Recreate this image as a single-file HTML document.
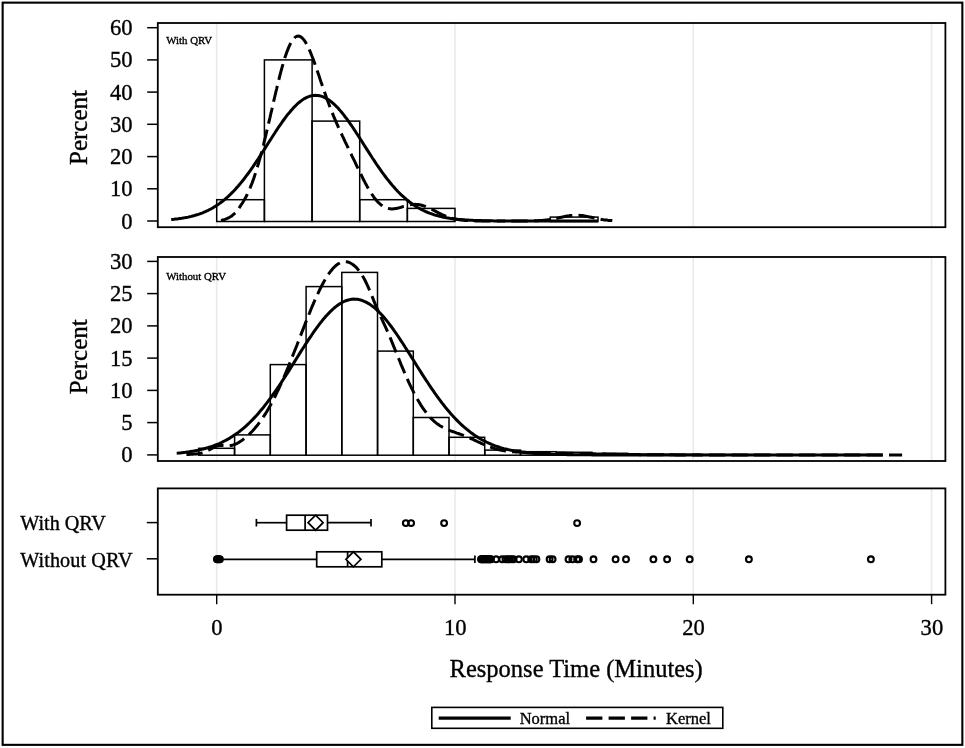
<!DOCTYPE html>
<html lang="en"><head><meta charset="utf-8"><title>Response Time Distribution</title>
<style>html,body{margin:0;padding:0;background:#fff;}svg{display:block;}</style></head>
<body>
<svg width="965" height="748" viewBox="0 0 965 748" font-family="'Liberation Serif', 'Times New Roman', serif" fill="#000" stroke="#000" stroke-width="0.35">
<rect x="0" y="0" width="965" height="748" fill="#fff" stroke="none"/>
<rect x="2.65" y="2.65" width="959.7" height="742.2" fill="none" stroke="#000" stroke-width="2.1"/>
<line x1="216.7" y1="23.0" x2="216.7" y2="227.2" stroke="#eaeaea" stroke-width="1.6"/>
<line x1="455.0" y1="23.0" x2="455.0" y2="227.2" stroke="#eaeaea" stroke-width="1.6"/>
<line x1="693.3" y1="23.0" x2="693.3" y2="227.2" stroke="#eaeaea" stroke-width="1.6"/>
<line x1="931.6" y1="23.0" x2="931.6" y2="227.2" stroke="#eaeaea" stroke-width="1.6"/>
<line x1="216.7" y1="257.0" x2="216.7" y2="461.0" stroke="#eaeaea" stroke-width="1.6"/>
<line x1="455.0" y1="257.0" x2="455.0" y2="461.0" stroke="#eaeaea" stroke-width="1.6"/>
<line x1="693.3" y1="257.0" x2="693.3" y2="461.0" stroke="#eaeaea" stroke-width="1.6"/>
<line x1="931.6" y1="257.0" x2="931.6" y2="461.0" stroke="#eaeaea" stroke-width="1.6"/>
<line x1="216.7" y1="488.4" x2="216.7" y2="594.7" stroke="#eaeaea" stroke-width="1.6"/>
<line x1="455.0" y1="488.4" x2="455.0" y2="594.7" stroke="#eaeaea" stroke-width="1.6"/>
<line x1="693.3" y1="488.4" x2="693.3" y2="594.7" stroke="#eaeaea" stroke-width="1.6"/>
<line x1="931.6" y1="488.4" x2="931.6" y2="594.7" stroke="#eaeaea" stroke-width="1.6"/>
<rect x="216.7" y="199.7" width="47.7" height="21.8" fill="none" stroke="#000" stroke-width="1.5"/>
<rect x="264.4" y="59.9" width="47.7" height="161.6" fill="none" stroke="#000" stroke-width="1.5"/>
<rect x="312.0" y="121.1" width="47.7" height="100.4" fill="none" stroke="#000" stroke-width="1.5"/>
<rect x="359.7" y="199.7" width="47.7" height="21.8" fill="none" stroke="#000" stroke-width="1.5"/>
<rect x="407.3" y="208.4" width="47.7" height="13.1" fill="none" stroke="#000" stroke-width="1.5"/>
<rect x="550.3" y="217.1" width="47.7" height="4.4" fill="none" stroke="#000" stroke-width="1.5"/>
<polyline points="171.2,219.5 172.6,219.4 174.0,219.3 175.5,219.1 176.9,218.9 178.3,218.8 179.7,218.6 181.2,218.4 182.6,218.1 184.0,217.9 185.5,217.6 186.9,217.4 188.3,217.1 189.7,216.7 191.2,216.4 192.6,216.0 194.0,215.7 195.5,215.2 196.9,214.8 198.3,214.4 199.7,213.9 201.2,213.3 202.6,212.8 204.0,212.2 205.4,211.6 206.9,210.9 208.3,210.3 209.7,209.5 211.2,208.8 212.6,208.0 214.0,207.1 215.4,206.3 216.9,205.3 218.3,204.4 219.7,203.4 221.1,202.3 222.6,201.2 224.0,200.1 225.4,198.9 226.9,197.6 228.3,196.4 229.7,195.0 231.1,193.6 232.6,192.2 234.0,190.7 235.4,189.2 236.8,187.6 238.3,186.0 239.7,184.3 241.1,182.6 242.6,180.8 244.0,179.0 245.4,177.1 246.8,175.2 248.3,173.3 249.7,171.3 251.1,169.3 252.5,167.3 254.0,165.2 255.4,163.1 256.8,160.9 258.3,158.8 259.7,156.6 261.1,154.4 262.5,152.1 264.0,149.9 265.4,147.7 266.8,145.4 268.2,143.2 269.7,140.9 271.1,138.7 272.5,136.5 274.0,134.2 275.4,132.0 276.8,129.9 278.2,127.7 279.7,125.6 281.1,123.6 282.5,121.5 284.0,119.5 285.4,117.6 286.8,115.7 288.2,113.9 289.7,112.2 291.1,110.5 292.5,108.9 293.9,107.3 295.4,105.9 296.8,104.5 298.2,103.2 299.7,102.0 301.1,100.9 302.5,99.9 303.9,98.9 305.4,98.1 306.8,97.4 308.2,96.8 309.6,96.3 311.1,95.9 312.5,95.6 313.9,95.4 315.4,95.3 316.8,95.4 318.2,95.5 319.6,95.8 321.1,96.1 322.5,96.6 323.9,97.2 325.3,97.9 326.8,98.7 328.2,99.5 329.6,100.5 331.1,101.6 332.5,102.8 333.9,104.0 335.3,105.4 336.8,106.8 338.2,108.3 339.6,109.9 341.0,111.6 342.5,113.3 343.9,115.1 345.3,117.0 346.8,118.9 348.2,120.9 349.6,122.9 351.0,124.9 352.5,127.0 353.9,129.1 355.3,131.3 356.7,133.5 358.2,135.7 359.6,137.9 361.0,140.2 362.5,142.4 363.9,144.7 365.3,146.9 366.7,149.1 368.2,151.4 369.6,153.6 371.0,155.8 372.4,158.0 373.9,160.2 375.3,162.3 376.7,164.5 378.2,166.6 379.6,168.6 381.0,170.6 382.4,172.6 383.9,174.6 385.3,176.5 386.7,178.4 388.2,180.2 389.6,182.0 391.0,183.7 392.4,185.4 393.9,187.1 395.3,188.7 396.7,190.2 398.1,191.7 399.6,193.2 401.0,194.6 402.4,195.9 403.9,197.2 405.3,198.5 406.7,199.7 408.1,200.8 409.6,202.0 411.0,203.0 412.4,204.0 413.8,205.0 415.3,206.0 416.7,206.9 418.1,207.7 419.6,208.5 421.0,209.3 422.4,210.0 423.8,210.7 425.3,211.4 426.7,212.0 428.1,212.6 429.5,213.2 431.0,213.7 432.4,214.2 433.8,214.7 435.3,215.1 436.7,215.5 438.1,215.9 439.5,216.3 441.0,216.6 442.4,217.0 443.8,217.3 445.2,217.5 446.7,217.8 448.1,218.0 449.5,218.3 451.0,218.5 452.4,218.7 453.8,218.9 455.2,219.1 456.7,219.2 458.1,219.4 459.5,219.5 460.9,219.6 462.4,219.7 463.8,219.8 465.2,219.9 466.7,220.0 468.1,220.1 469.5,220.2 470.9,220.3 472.4,220.3 473.8,220.4 475.2,220.5 476.7,220.5 478.1,220.6 479.5,220.6 480.9,220.6 482.4,220.7 483.8,220.7 485.2,220.7 486.6,220.8 488.1,220.8 489.5,220.8 490.9,220.8 492.4,220.8 493.8,220.9 495.2,220.9 496.6,220.9 498.1,220.9 499.5,220.9 500.9,220.9 502.3,220.9 503.8,220.9 505.2,220.9 506.6,220.9 508.1,221.0 509.5,221.0 510.9,221.0 512.3,221.0 513.8,221.0 515.2,221.0 516.6,221.0 518.0,221.0 519.5,221.0 520.9,221.0 522.3,221.0 523.8,221.0 525.2,221.0 526.6,221.0 528.0,221.0 529.5,221.0 530.9,221.0 532.3,221.0 533.7,221.0 535.2,221.0 536.6,221.0 538.0,221.0 539.5,221.0 540.9,221.0 542.3,221.0 543.7,221.0 545.2,221.0 546.6,221.0 548.0,221.0 549.4,221.0 550.9,221.0 552.3,221.0 553.7,221.0 555.2,221.0 556.6,221.0 558.0,221.0 559.4,221.0 560.9,221.0 562.3,221.0 563.7,221.0 565.1,221.0 566.6,221.0 568.0,221.0 569.4,221.0 570.9,221.0 572.3,221.0 573.7,221.0 575.1,221.0 576.6,221.0 578.0,221.0 579.4,221.0 580.9,221.0 582.3,221.0 583.7,221.0 585.1,221.0 586.6,221.0 588.0,221.0 589.4,221.0 590.8,221.0 592.3,221.0 593.7,221.0 595.1,221.0 596.6,221.0 598.0,221.0" fill="none" stroke="#000" stroke-width="3" stroke-linejoin="round" stroke-linecap="butt"/>
<polyline points="221.0,220.4 221.9,220.2 222.9,219.9 223.8,219.7 224.8,219.4 225.7,219.1 226.6,218.7 227.6,218.3 228.5,217.8 229.5,217.3 230.4,216.8 231.4,216.2 232.3,215.5 233.2,214.7 234.2,213.9 235.1,213.0 236.1,212.0 237.0,210.8 237.9,209.6 238.9,208.3 239.8,206.9 240.8,205.4 241.7,204.0 242.7,202.6 243.6,201.1 244.5,199.5 245.5,197.8 246.4,196.0 247.4,194.1 248.3,192.1 249.3,190.0 250.2,187.8 251.1,185.4 252.1,183.0 253.0,180.4 254.0,177.7 254.9,174.9 255.8,172.1 256.8,169.0 257.7,165.9 258.7,162.7 259.6,159.4 260.6,156.0 261.5,152.4 262.4,148.8 263.4,145.1 264.3,141.4 265.3,137.5 266.2,133.6 267.1,129.6 268.1,125.6 269.0,121.6 270.0,117.5 270.9,113.4 271.9,109.3 272.8,105.2 273.7,101.1 274.7,97.0 275.6,93.0 276.6,89.0 277.5,85.0 278.5,81.2 279.4,77.4 280.3,73.8 281.3,70.2 282.2,66.8 283.2,63.5 284.1,60.3 285.0,57.3 286.0,54.5 286.9,51.8 287.9,49.4 288.8,47.1 289.8,45.0 290.7,43.1 291.6,41.5 292.6,40.0 293.5,38.8 294.5,37.8 295.4,37.0 296.4,36.5 297.3,36.2 298.2,36.1 299.2,36.2 300.1,36.5 301.1,37.1 302.0,37.8 302.9,38.7 303.9,39.9 304.8,41.2 305.8,42.7 306.7,44.4 307.7,46.2 308.6,48.1 309.5,50.2 310.5,52.4 311.4,54.7 312.4,57.2 313.3,59.6 314.3,62.2 315.2,64.9 316.1,67.5 317.1,70.3 318.0,73.0 319.0,75.8 319.9,78.6 320.8,81.4 321.8,84.1 322.7,86.9 323.7,89.6 324.6,92.3 325.6,95.0 326.5,97.7 327.4,100.2 328.4,102.8 329.3,105.3 330.3,107.8 331.2,110.2 332.2,112.6 333.1,114.9 334.0,117.2 335.0,119.4 335.9,121.6 336.9,123.8 337.8,125.9 338.7,128.0 339.7,130.1 340.6,132.1 341.6,134.1 342.5,136.1 343.5,138.1 344.4,140.1 345.3,142.1 346.3,144.0 347.2,146.0 348.2,148.0 349.1,149.9 350.0,151.9 351.0,153.8 351.9,155.8 352.9,157.8 353.8,159.7 354.8,161.7 355.7,163.7 356.6,165.6 357.6,167.6 358.5,169.5 359.5,171.5 360.4,173.4 361.4,175.3 362.3,177.2 363.2,179.1 364.2,180.9 365.1,182.7 366.1,184.4 367.0,186.2 367.9,187.8 368.9,189.5 369.8,191.0 370.8,192.6 371.7,194.0 372.7,195.4 373.6,196.8 374.5,198.0 375.5,199.2 376.4,200.4 377.4,201.4 378.3,202.4 379.3,203.3 380.2,204.2 381.1,205.0 382.1,205.6 383.0,206.3 384.0,206.8 384.9,207.3 385.8,207.7 386.8,208.1 387.7,208.4 388.7,208.6 389.6,208.7 390.6,208.8 391.5,208.9 392.4,208.9 393.4,208.8 394.3,208.8 395.3,208.6 396.2,208.5 397.2,208.3 398.1,208.1 399.0,207.8 400.0,207.6 400.9,207.3 401.9,207.0 402.8,206.7 403.7,206.4 404.7,206.2 405.6,205.9 406.6,205.6 407.5,205.4 408.5,205.2 409.4,205.0 410.3,204.8 411.3,204.6 412.2,204.5 413.2,204.4 414.1,204.4 415.1,204.3 416.0,204.4 416.9,204.4 417.9,204.5 418.8,204.6 419.8,204.8 420.7,205.0 421.6,205.2 422.6,205.5 423.5,205.8 424.5,206.1 425.4,206.4 426.4,206.8 427.3,207.2 428.2,207.6 429.2,208.1 430.1,208.5 431.1,209.0 432.0,209.5 432.9,209.9 433.9,210.4 434.8,210.9 435.8,211.4 436.7,211.9 437.7,212.4 438.6,212.9 439.5,213.3 440.5,213.8 441.4,214.3 442.4,214.7 443.3,215.1 444.3,215.5 445.2,215.9 446.1,216.3 447.1,216.7 448.0,217.0 449.0,217.3 449.9,217.6 450.8,217.9 451.8,218.2 452.7,218.4 453.7,218.7 454.6,218.9 455.6,219.1 456.5,219.3 457.4,219.5 458.4,219.6 459.3,219.8 460.3,219.9 461.2,220.0 462.2,220.1 463.1,220.2 464.0,220.3 465.0,220.4 465.9,220.5 466.9,220.5 467.8,220.6 468.7,220.6 469.7,220.7 470.6,220.7 471.6,220.8 472.5,220.8 473.5,220.8 474.4,220.8 475.3,220.9 476.3,220.9 477.2,220.9 478.2,220.9 479.1,220.9 480.1,220.9 481.0,221.0 481.9,221.0 482.9,221.0 483.8,221.0 484.8,221.0 485.7,221.0 486.6,221.0 487.6,221.0 488.5,221.0 489.5,221.0 490.4,221.0 491.4,221.0 492.3,221.0 493.2,221.0 494.2,221.0 495.1,221.0 496.1,221.0 497.0,221.0 497.9,221.0 498.9,221.0 499.8,221.0 500.8,221.0 501.7,221.0 502.7,221.0 502.7,221.0" fill="none" stroke="#000" stroke-width="3" stroke-dasharray="16.3 6.2" stroke-linejoin="round"/>
<polyline points="502.7,221.0 502.7,221.0 503.8,221.0 504.9,221.0 506.0,221.0 507.1,221.0 508.2,221.0 509.3,221.0 510.4,221.0 511.5,221.0 512.6,221.0 513.7,221.0 514.8,221.0 515.9,221.0 517.1,221.0 518.2,221.0 519.3,221.0 520.4,221.0 521.5,221.0 522.6,221.0 523.7,221.0 524.8,221.0 525.9,221.0 527.0,221.0 528.1,220.9 529.2,220.9 530.3,220.9 531.4,220.9 532.6,220.9 533.7,220.9 534.8,220.8 535.9,220.8 537.0,220.7 538.1,220.7 539.2,220.6 540.3,220.6 541.4,220.5 542.5,220.4 543.6,220.3 544.7,220.2 545.8,220.1 547.0,220.0 548.1,219.8 549.2,219.7 550.3,219.5 551.4,219.3 552.5,219.2 553.6,219.0 554.7,218.7 555.8,218.5 556.9,218.3 558.0,218.0 559.1,217.8 560.2,217.5 561.3,217.3 562.5,217.1 563.6,216.8 564.7,216.6 565.8,216.3 566.9,216.1 568.0,215.9 569.1,215.8 570.2,215.6 571.3,215.5 572.4,215.4 573.5,215.3 574.6,215.2 575.7,215.2 576.8,215.2 578.0,215.2 579.1,215.3 580.2,215.4 581.3,215.5 582.4,215.6 583.5,215.8 584.6,216.0 585.7,216.2 586.8,216.4 587.9,216.6 589.0,216.9 590.1,217.1 591.2,217.3 592.3,217.6 593.5,217.8 594.6,218.1 595.7,218.3 596.8,218.6 597.9,218.8 599.0,219.0 600.1,219.2 601.2,219.4 602.3,219.6 603.4,219.7 604.5,219.9 605.6,220.0 606.7,220.1 607.8,220.3 609.0,220.4 610.1,220.4 611.2,220.5 612.3,220.6" fill="none" stroke="#000" stroke-width="3" stroke-dasharray="16.3 6.2" stroke-dashoffset="13.7" stroke-linejoin="round"/>
<rect x="198.8" y="448.3" width="35.7" height="6.9" fill="none" stroke="#000" stroke-width="1.5"/>
<rect x="234.6" y="434.9" width="35.7" height="20.3" fill="none" stroke="#000" stroke-width="1.5"/>
<rect x="270.3" y="364.6" width="35.7" height="90.6" fill="none" stroke="#000" stroke-width="1.5"/>
<rect x="306.1" y="286.6" width="35.7" height="168.6" fill="none" stroke="#000" stroke-width="1.5"/>
<rect x="341.8" y="272.4" width="35.7" height="182.8" fill="none" stroke="#000" stroke-width="1.5"/>
<rect x="377.6" y="351.1" width="35.7" height="104.1" fill="none" stroke="#000" stroke-width="1.5"/>
<rect x="413.3" y="417.5" width="35.7" height="37.7" fill="none" stroke="#000" stroke-width="1.5"/>
<rect x="449.0" y="437.3" width="35.7" height="17.9" fill="none" stroke="#000" stroke-width="1.5"/>
<rect x="484.8" y="450.1" width="35.7" height="5.1" fill="none" stroke="#000" stroke-width="1.5"/>
<rect x="520.5" y="451.7" width="35.7" height="3.5" fill="none" stroke="#000" stroke-width="1.5"/>
<rect x="556.3" y="452.3" width="35.7" height="2.9" fill="none" stroke="#000" stroke-width="1.5"/>
<rect x="592.0" y="453.3" width="35.7" height="1.9" fill="none" stroke="#000" stroke-width="1.5"/>
<rect x="627.8" y="454.1" width="35.7" height="1.1" fill="none" stroke="#000" stroke-width="1.5"/>
<rect x="663.5" y="454.3" width="35.7" height="0.9" fill="none" stroke="#000" stroke-width="1.5"/>
<rect x="699.3" y="454.6" width="35.7" height="0.6" fill="none" stroke="#000" stroke-width="1.5"/>
<rect x="735.0" y="454.6" width="35.7" height="0.6" fill="none" stroke="#000" stroke-width="1.5"/>
<rect x="842.2" y="454.6" width="35.7" height="0.6" fill="none" stroke="#000" stroke-width="1.5"/>
<polyline points="176.7,453.2 178.4,453.1 180.2,452.9 182.0,452.7 183.7,452.5 185.5,452.3 187.3,452.0 189.1,451.8 190.8,451.5 192.6,451.2 194.4,450.9 196.1,450.6 197.9,450.2 199.7,449.9 201.4,449.4 203.2,449.0 205.0,448.5 206.7,448.0 208.5,447.5 210.3,446.9 212.1,446.3 213.8,445.7 215.6,445.0 217.4,444.3 219.1,443.6 220.9,442.8 222.7,441.9 224.4,441.0 226.2,440.1 228.0,439.1 229.8,438.1 231.5,437.0 233.3,435.8 235.1,434.6 236.8,433.4 238.6,432.1 240.4,430.7 242.1,429.3 243.9,427.8 245.7,426.3 247.5,424.6 249.2,423.0 251.0,421.2 252.8,419.4 254.5,417.6 256.3,415.7 258.1,413.7 259.8,411.6 261.6,409.5 263.4,407.4 265.1,405.2 266.9,402.9 268.7,400.5 270.5,398.1 272.2,395.7 274.0,393.2 275.8,390.7 277.5,388.1 279.3,385.5 281.1,382.8 282.8,380.1 284.6,377.4 286.4,374.6 288.2,371.9 289.9,369.1 291.7,366.2 293.5,363.4 295.2,360.6 297.0,357.8 298.8,354.9 300.5,352.1 302.3,349.3 304.1,346.6 305.8,343.8 307.6,341.1 309.4,338.4 311.2,335.8 312.9,333.2 314.7,330.7 316.5,328.2 318.2,325.8 320.0,323.4 321.8,321.2 323.5,319.0 325.3,316.9 327.1,315.0 328.9,313.1 330.6,311.3 332.4,309.6 334.2,308.0 335.9,306.6 337.7,305.3 339.5,304.0 341.2,303.0 343.0,302.0 344.8,301.2 346.6,300.5 348.3,300.0 350.1,299.6 351.9,299.3 353.6,299.1 355.4,299.2 357.2,299.3 358.9,299.6 360.7,300.0 362.5,300.6 364.2,301.3 366.0,302.1 367.8,303.1 369.6,304.1 371.3,305.4 373.1,306.7 374.9,308.2 376.6,309.7 378.4,311.4 380.2,313.2 381.9,315.1 383.7,317.1 385.5,319.2 387.3,321.4 389.0,323.6 390.8,326.0 392.6,328.4 394.3,330.9 396.1,333.4 397.9,336.0 399.6,338.6 401.4,341.3 403.2,344.0 404.9,346.8 406.7,349.6 408.5,352.4 410.3,355.2 412.0,358.0 413.8,360.8 415.6,363.7 417.3,366.5 419.1,369.3 420.9,372.1 422.6,374.9 424.4,377.6 426.2,380.4 428.0,383.0 429.7,385.7 431.5,388.3 433.3,390.9 435.0,393.4 436.8,395.9 438.6,398.4 440.3,400.7 442.1,403.1 443.9,405.3 445.6,407.6 447.4,409.7 449.2,411.8 451.0,413.9 452.7,415.8 454.5,417.7 456.3,419.6 458.0,421.4 459.8,423.1 461.6,424.8 463.3,426.4 465.1,427.9 466.9,429.4 468.7,430.8 470.4,432.2 472.2,433.5 474.0,434.8 475.7,435.9 477.5,437.1 479.3,438.2 481.0,439.2 482.8,440.2 484.6,441.1 486.4,442.0 488.1,442.8 489.9,443.6 491.7,444.4 493.4,445.1 495.2,445.8 497.0,446.4 498.7,447.0 500.5,447.6 502.3,448.1 504.0,448.6 505.8,449.0 507.6,449.5 509.4,449.9 511.1,450.3 512.9,450.6 514.7,451.0 516.4,451.3 518.2,451.6 520.0,451.8 521.7,452.1 523.5,452.3 525.3,452.5 527.1,452.7 528.8,452.9 530.6,453.1 532.4,453.2 534.1,453.4 535.9,453.5 537.7,453.6 539.4,453.7 541.2,453.8 543.0,453.9 544.7,454.0 546.5,454.1 548.3,454.2 550.1,454.2 551.8,454.3 553.6,454.4 555.4,454.4 557.1,454.5 558.9,454.5 560.7,454.5 562.4,454.6 564.2,454.6 566.0,454.6 567.8,454.7 569.5,454.7 571.3,454.7 573.1,454.7 574.8,454.8 576.6,454.8 578.4,454.8 580.1,454.8 581.9,454.8 583.7,454.8 585.5,454.8 587.2,454.8 589.0,454.8 590.8,454.8 592.5,454.9 594.3,454.9 596.1,454.9 597.8,454.9 599.6,454.9 601.4,454.9 603.1,454.9 604.9,454.9 606.7,454.9 608.5,454.9 610.2,454.9 612.0,454.9 613.8,454.9 615.5,454.9 617.3,454.9 619.1,454.9 620.8,454.9 622.6,454.9 624.4,454.9 626.2,454.9 627.9,454.9 629.7,454.9 631.5,454.9 633.2,454.9 635.0,454.9 636.8,454.9 638.5,454.9 640.3,454.9 642.1,454.9 643.8,454.9 645.6,454.9 647.4,454.9 649.2,454.9 650.9,454.9 652.7,454.9 654.5,454.9 656.2,454.9 658.0,454.9 659.8,454.9 661.5,454.9 663.3,454.9 665.1,454.9 666.9,454.9 668.6,454.9 670.4,454.9 672.2,454.9 673.9,454.9 675.7,454.9 677.5,454.9 679.2,454.9 681.0,454.9 682.8,454.9 684.5,454.9 686.3,454.9 688.1,454.9 689.9,454.9 691.6,454.9 693.4,454.9 695.2,454.9 696.9,454.9 698.7,454.9 700.5,454.9 702.2,454.9 704.0,454.9 705.8,454.9 707.6,454.9 709.3,454.9 711.1,454.9 712.9,454.9 714.6,454.9 716.4,454.9 718.2,454.9 719.9,454.9 721.7,454.9 723.5,454.9 725.3,454.9 727.0,454.9 728.8,454.9 730.6,454.9 732.3,454.9 734.1,454.9 735.9,454.9 737.6,454.9 739.4,454.9 741.2,454.9 742.9,454.9 744.7,454.9 746.5,454.9 748.3,454.9 750.0,454.9 751.8,454.9 753.6,454.9 755.3,454.9 757.1,454.9 758.9,454.9 760.6,454.9 762.4,454.9 764.2,454.9 766.0,454.9 767.7,454.9 769.5,454.9 771.3,454.9 773.0,454.9 774.8,454.9 776.6,454.9 778.3,454.9 780.1,454.9 781.9,454.9 783.6,454.9 785.4,454.9 787.2,454.9 789.0,454.9 790.7,454.9 792.5,454.9 794.3,454.9 796.0,454.9 797.8,454.9 799.6,454.9 801.3,454.9 803.1,454.9 804.9,454.9 806.7,454.9 808.4,454.9 810.2,454.9 812.0,454.9 813.7,454.9 815.5,454.9 817.3,454.9 819.0,454.9 820.8,454.9 822.6,454.9 824.4,454.9 826.1,454.9 827.9,454.9 829.7,454.9 831.4,454.9 833.2,454.9 835.0,454.9 836.7,454.9 838.5,454.9 840.3,454.9 842.0,454.9 843.8,454.9 845.6,454.9 847.4,454.9 849.1,454.9 850.9,454.9 852.7,454.9 854.4,454.9 856.2,454.9 858.0,454.9 859.7,454.9 861.5,454.9 863.3,454.9 865.1,454.9 866.8,454.9 868.6,454.9 870.4,454.9 872.1,454.9 873.9,454.9 875.7,454.9 877.4,454.9 879.2,454.9 881.0,454.9 882.7,454.9" fill="none" stroke="#000" stroke-width="3" stroke-linejoin="round"/>
<polyline points="186.4,454.5 187.7,454.4 189.0,454.4 190.2,454.3 191.5,454.3 192.8,454.2 194.1,454.1 195.3,454.0 196.6,453.9 197.9,453.7 199.1,453.5 200.4,453.3 201.7,453.0 203.0,452.6 204.2,452.2 205.5,451.7 206.8,451.1 208.0,450.5 209.3,449.8 210.6,449.1 211.8,448.4 213.1,447.7 214.4,447.1 215.7,446.6 216.9,446.1 218.2,445.8 219.5,445.6 220.7,445.5 222.0,445.5 223.3,445.6 224.5,445.7 225.8,445.7 227.1,445.8 228.4,445.8 229.6,445.7 230.9,445.5 232.2,445.3 233.4,444.9 234.7,444.5 236.0,443.9 237.2,443.3 238.5,442.6 239.8,441.8 241.1,441.0 242.3,440.1 243.6,439.1 244.9,438.1 246.1,437.1 247.4,436.0 248.7,434.8 250.0,433.6 251.2,432.3 252.5,431.0 253.8,429.6 255.0,428.1 256.3,426.6 257.6,425.0 258.8,423.3 260.1,421.6 261.4,419.8 262.7,418.0 263.9,416.1 265.2,414.1 266.5,412.0 267.7,409.9 269.0,407.7 270.3,405.5 271.5,403.1 272.8,400.7 274.1,398.3 275.4,395.8 276.6,393.2 277.9,390.5 279.2,387.8 280.4,385.1 281.7,382.2 283.0,379.4 284.3,376.4 285.5,373.5 286.8,370.4 288.1,367.4 289.3,364.3 290.6,361.1 291.9,357.9 293.1,354.7 294.4,351.5 295.7,348.3 297.0,345.0 298.2,341.7 299.5,338.4 300.8,335.1 302.0,331.9 303.3,328.6 304.6,325.3 305.8,322.1 307.1,318.9 308.4,315.7 309.7,312.6 310.9,309.5 312.2,306.4 313.5,303.4 314.7,300.5 316.0,297.6 317.3,294.8 318.6,292.1 319.8,289.5 321.1,287.0 322.4,284.5 323.6,282.2 324.9,279.9 326.2,277.8 327.4,275.8 328.7,273.9 330.0,272.1 331.3,270.5 332.5,269.0 333.8,267.6 335.1,266.3 336.3,265.2 337.6,264.3 338.9,263.5 340.1,262.8 341.4,262.3 342.7,261.9 344.0,261.7 345.2,261.7 346.5,261.8 347.8,262.0 349.0,262.4 350.3,263.0 351.6,263.7 352.8,264.5 354.1,265.5 355.4,266.6 356.7,267.9 357.9,269.4 359.2,271.0 360.5,272.7 361.7,274.7 363.0,276.8 364.3,279.0 365.6,281.5 366.8,284.1 368.1,286.9 369.4,289.8 370.6,292.8 371.9,295.9 373.2,299.1 374.4,302.2 375.7,305.3 377.0,308.3 378.3,311.3 379.5,314.1 380.8,316.9 382.1,319.7 383.3,322.4 384.6,325.1 385.9,327.9 387.1,330.7 388.4,333.6 389.7,336.6 391.0,339.6 392.2,342.7 393.5,345.8 394.8,349.0 396.0,352.1 397.3,355.3 398.6,358.4 399.9,361.5 401.1,364.6 402.4,367.7 403.7,370.7 404.9,373.6 406.2,376.5 407.5,379.4 408.7,382.1 410.0,384.9 411.3,387.5 412.6,390.1 413.8,392.6 415.1,395.0 416.4,397.4 417.6,399.6 418.9,401.8 420.2,403.9 421.4,405.9 422.7,407.8 424.0,409.7 425.3,411.4 426.5,413.1 427.8,414.7 429.1,416.2 430.3,417.6 431.6,418.9 432.9,420.1 434.2,421.3 435.4,422.4 436.7,423.4 438.0,424.3 439.2,425.2 440.5,426.0 441.8,426.7 443.0,427.4 444.3,428.1 445.6,428.7 446.9,429.3 448.1,429.8 449.4,430.3 450.7,430.8 451.9,431.3 453.2,431.7 454.5,432.2 455.7,432.6 457.0,433.1 458.3,433.5 459.6,434.0 460.8,434.4 462.1,434.9 463.4,435.4 464.6,435.9 465.9,436.4 467.2,436.9 468.5,437.5 469.7,438.0 471.0,438.6 472.3,439.2 473.5,439.7 474.8,440.3 476.1,440.9 477.3,441.5 478.6,442.1 479.9,442.7 481.2,443.3 482.4,443.9 483.7,444.4 485.0,445.0 486.2,445.5 487.5,446.0 488.8,446.5 490.0,447.0 491.3,447.4 492.6,447.9 493.9,448.3 495.1,448.7 496.4,449.0 497.7,449.4 498.9,449.7 500.2,450.0 501.5,450.2 502.7,450.5 504.0,450.7 505.3,450.9 506.6,451.1 507.8,451.2 509.1,451.4 510.4,451.5 511.6,451.6 512.9,451.7 514.2,451.8 515.5,451.9 516.7,452.0 518.0,452.1 519.3,452.1 520.5,452.2 521.8,452.2 523.1,452.3 524.3,452.3 525.6,452.3 526.9,452.4 528.2,452.4 529.4,452.4 530.7,452.4 532.0,452.5 533.2,452.5 534.5,452.5 535.8,452.5 537.0,452.6 538.3,452.6 539.6,452.6 540.9,452.6 542.1,452.6 543.4,452.7 544.7,452.7 545.9,452.7 547.2,452.7 548.5,452.8 549.8,452.8 551.0,452.8 552.3,452.8 553.6,452.9 554.8,452.9 556.1,452.9 557.4,453.0 558.6,453.0 559.9,453.0 561.2,453.0 562.5,453.1 563.7,453.1 565.0,453.1 566.3,453.2 567.5,453.2 568.8,453.2 570.1,453.3 571.3,453.3 572.6,453.3 573.9,453.4 575.2,453.4 576.4,453.4 577.7,453.5 579.0,453.5 580.2,453.5 581.5,453.6 582.8,453.6 584.1,453.6 585.3,453.7 586.6,453.7 587.9,453.7 589.1,453.8 590.4,453.8 591.7,453.8 592.9,453.9 594.2,453.9 595.5,453.9 596.8,454.0 598.0,454.0 599.3,454.0 600.6,454.0 601.8,454.1 603.1,454.1 604.4,454.1 605.6,454.1 606.9,454.2 608.2,454.2 609.5,454.2 610.7,454.3 612.0,454.3 613.3,454.3 614.5,454.3 615.8,454.3 617.1,454.4 618.4,454.4 619.6,454.4 620.9,454.4 622.2,454.4 623.4,454.5 624.7,454.5 626.0,454.5 627.2,454.5 628.5,454.5 629.8,454.6 631.1,454.6 632.3,454.6 633.6,454.6 634.9,454.6 636.1,454.6 637.4,454.6 638.7,454.6 639.9,454.7 641.2,454.7 642.5,454.7 643.8,454.7 645.0,454.7 646.3,454.7 647.6,454.7 648.8,454.7 650.1,454.7 651.4,454.8 652.6,454.8 653.9,454.8 655.2,454.8 656.5,454.8 657.7,454.8 659.0,454.8 660.3,454.8 661.5,454.8 662.8,454.8 664.1,454.8 665.4,454.8 666.6,454.8 667.9,454.8 669.2,454.8 670.4,454.8 671.7,454.8 673.0,454.8 674.2,454.8 675.5,454.9 676.8,454.9 678.1,454.9 679.3,454.9 680.6,454.9 681.9,454.9 683.1,454.9 684.4,454.9 685.7,454.9 686.9,454.9 688.2,454.9 689.5,454.9 690.8,454.9 692.0,454.9 693.3,454.9 693.3,454.9" fill="none" stroke="#000" stroke-width="3" stroke-dasharray="16.3 6.2" stroke-linejoin="round"/>
<polyline points="693.3,454.9 693.3,454.9 696.8,454.9 700.4,454.9 703.9,454.9 707.5,454.9 711.0,454.9 714.5,454.9 718.1,454.9 721.6,454.9 725.1,454.9 728.7,454.9 732.2,454.9 735.8,454.9 739.3,454.9 742.8,454.9 746.4,454.9 749.9,454.9 753.4,454.9 757.0,454.9 760.5,454.9 764.1,454.9 767.6,454.9 771.1,454.9 774.7,454.9 778.2,454.9 781.8,454.9 785.3,454.9 788.8,454.9 792.4,454.9 795.9,454.9 799.4,454.9 803.0,454.9 806.5,454.9 810.1,454.9 813.6,454.9 817.1,454.9 820.7,454.9 824.2,454.9 827.7,454.9 831.3,454.9 834.8,454.9 838.4,454.9 841.9,454.9 845.4,454.9 849.0,454.9 852.5,454.9 856.1,454.9 859.6,454.9 863.1,454.9 866.7,454.9 870.2,454.9 873.7,454.9 877.3,454.9 880.8,454.9 884.4,454.9 887.9,454.9 891.4,454.9 895.0,454.9 898.5,454.9 902.1,454.9" fill="none" stroke="#000" stroke-width="3" stroke-dasharray="16.3 6.2" stroke-dashoffset="6.8" stroke-linejoin="round"/>
<rect x="157.8" y="23.0" width="787.6" height="204.2" fill="none" stroke="#000" stroke-width="1.8"/>
<rect x="157.8" y="257.0" width="787.6" height="204.0" fill="none" stroke="#000" stroke-width="1.8"/>
<rect x="157.8" y="488.4" width="787.6" height="106.3" fill="none" stroke="#000" stroke-width="1.8"/>
<line x1="147.2" y1="221.0" x2="157.8" y2="221.0" stroke="#000" stroke-width="1.5"/>
<text x="132.6" y="228.5" font-size="22.6" text-anchor="end">0</text>
<line x1="147.2" y1="188.8" x2="157.8" y2="188.8" stroke="#000" stroke-width="1.5"/>
<text x="132.6" y="196.3" font-size="22.6" text-anchor="end">10</text>
<line x1="147.2" y1="156.6" x2="157.8" y2="156.6" stroke="#000" stroke-width="1.5"/>
<text x="132.6" y="164.1" font-size="22.6" text-anchor="end">20</text>
<line x1="147.2" y1="124.3" x2="157.8" y2="124.3" stroke="#000" stroke-width="1.5"/>
<text x="132.6" y="131.8" font-size="22.6" text-anchor="end">30</text>
<line x1="147.2" y1="92.1" x2="157.8" y2="92.1" stroke="#000" stroke-width="1.5"/>
<text x="132.6" y="99.6" font-size="22.6" text-anchor="end">40</text>
<line x1="147.2" y1="59.9" x2="157.8" y2="59.9" stroke="#000" stroke-width="1.5"/>
<text x="132.6" y="67.4" font-size="22.6" text-anchor="end">50</text>
<line x1="147.2" y1="27.7" x2="157.8" y2="27.7" stroke="#000" stroke-width="1.5"/>
<text x="132.6" y="35.2" font-size="22.6" text-anchor="end">60</text>
<line x1="147.2" y1="454.9" x2="157.8" y2="454.9" stroke="#000" stroke-width="1.5"/>
<text x="132.6" y="462.4" font-size="22.6" text-anchor="end">0</text>
<line x1="147.2" y1="422.6" x2="157.8" y2="422.6" stroke="#000" stroke-width="1.5"/>
<text x="132.6" y="430.1" font-size="22.6" text-anchor="end">5</text>
<line x1="147.2" y1="390.4" x2="157.8" y2="390.4" stroke="#000" stroke-width="1.5"/>
<text x="132.6" y="397.9" font-size="22.6" text-anchor="end">10</text>
<line x1="147.2" y1="358.1" x2="157.8" y2="358.1" stroke="#000" stroke-width="1.5"/>
<text x="132.6" y="365.6" font-size="22.6" text-anchor="end">15</text>
<line x1="147.2" y1="325.9" x2="157.8" y2="325.9" stroke="#000" stroke-width="1.5"/>
<text x="132.6" y="333.4" font-size="22.6" text-anchor="end">20</text>
<line x1="147.2" y1="293.6" x2="157.8" y2="293.6" stroke="#000" stroke-width="1.5"/>
<text x="132.6" y="301.1" font-size="22.6" text-anchor="end">25</text>
<line x1="147.2" y1="261.4" x2="157.8" y2="261.4" stroke="#000" stroke-width="1.5"/>
<text x="132.6" y="268.9" font-size="22.6" text-anchor="end">30</text>
<text transform="translate(87.0,127.5) rotate(-90)" font-size="25" text-anchor="middle">Percent</text>
<text transform="translate(87.0,356.8) rotate(-90)" font-size="25" text-anchor="middle">Percent</text>
<text x="166.2" y="43.5" font-size="10.85">With QRV</text>
<text x="166.2" y="279.8" font-size="10.85">Without QRV</text>
<line x1="256.4" y1="522.7" x2="286.6" y2="522.7" stroke="#000" stroke-width="1.7"/>
<line x1="327.5" y1="522.7" x2="371.0" y2="522.7" stroke="#000" stroke-width="1.7"/>
<line x1="256.4" y1="518.9" x2="256.4" y2="526.5" stroke="#000" stroke-width="1.7"/>
<line x1="371.0" y1="518.9" x2="371.0" y2="526.5" stroke="#000" stroke-width="1.7"/>
<rect x="286.6" y="515.2" width="40.9" height="15.0" fill="#fff" stroke="#000" stroke-width="1.7"/>
<line x1="305.1" y1="515.2" x2="305.1" y2="530.2" stroke="#000" stroke-width="1.7"/>
<path d="M308.1 522.7 L315.6 515.2 L323.1 522.7 L315.6 530.2 Z" fill="#fff" stroke="#000" stroke-width="1.7"/>
<circle cx="405.8" cy="523.1" r="2.9" fill="none" stroke="#000" stroke-width="2.1"/>
<circle cx="411.1" cy="523.1" r="2.9" fill="none" stroke="#000" stroke-width="2.1"/>
<circle cx="444.1" cy="523.1" r="2.9" fill="none" stroke="#000" stroke-width="2.1"/>
<circle cx="577.1" cy="523.1" r="2.9" fill="none" stroke="#000" stroke-width="2.1"/>
<line x1="218.0" y1="559.3" x2="316.7" y2="559.3" stroke="#000" stroke-width="1.7"/>
<line x1="381.8" y1="559.3" x2="474.9" y2="559.3" stroke="#000" stroke-width="1.7"/>
<line x1="218.0" y1="555.5" x2="218.0" y2="563.1" stroke="#000" stroke-width="1.7"/>
<line x1="474.9" y1="555.5" x2="474.9" y2="563.1" stroke="#000" stroke-width="1.7"/>
<rect x="316.7" y="551.8" width="65.1" height="15.0" fill="#fff" stroke="#000" stroke-width="1.7"/>
<line x1="347.6" y1="551.8" x2="347.6" y2="566.8" stroke="#000" stroke-width="1.7"/>
<path d="M345.9 559.3 L353.4 551.8 L360.9 559.3 L353.4 566.8 Z" fill="#fff" stroke="#000" stroke-width="1.7"/>
<circle cx="216.9" cy="559.3" r="2.9" fill="none" stroke="#000" stroke-width="2.1"/>
<circle cx="217.8" cy="559.3" r="2.9" fill="none" stroke="#000" stroke-width="2.1"/>
<circle cx="218.8" cy="559.3" r="2.9" fill="none" stroke="#000" stroke-width="2.1"/>
<circle cx="219.9" cy="559.3" r="2.9" fill="none" stroke="#000" stroke-width="2.1"/>
<ellipse cx="218.4" cy="559.3" rx="3.5" ry="2.5" fill="#000"/>
<circle cx="481.0" cy="559.3" r="2.9" fill="none" stroke="#000" stroke-width="2.1"/>
<circle cx="481.7" cy="559.3" r="2.9" fill="none" stroke="#000" stroke-width="2.1"/>
<circle cx="482.4" cy="559.3" r="2.9" fill="none" stroke="#000" stroke-width="2.1"/>
<circle cx="483.2" cy="559.3" r="2.9" fill="none" stroke="#000" stroke-width="2.1"/>
<circle cx="484.0" cy="559.3" r="2.9" fill="none" stroke="#000" stroke-width="2.1"/>
<circle cx="484.9" cy="559.3" r="2.9" fill="none" stroke="#000" stroke-width="2.1"/>
<circle cx="485.8" cy="559.3" r="2.9" fill="none" stroke="#000" stroke-width="2.1"/>
<circle cx="486.7" cy="559.3" r="2.9" fill="none" stroke="#000" stroke-width="2.1"/>
<circle cx="487.6" cy="559.3" r="2.9" fill="none" stroke="#000" stroke-width="2.1"/>
<circle cx="488.5" cy="559.3" r="2.9" fill="none" stroke="#000" stroke-width="2.1"/>
<circle cx="489.3" cy="559.3" r="2.9" fill="none" stroke="#000" stroke-width="2.1"/>
<circle cx="490.2" cy="559.3" r="2.9" fill="none" stroke="#000" stroke-width="2.1"/>
<circle cx="491.0" cy="559.3" r="2.9" fill="none" stroke="#000" stroke-width="2.1"/>
<circle cx="496.1" cy="559.3" r="2.9" fill="none" stroke="#000" stroke-width="2.1"/>
<circle cx="502.2" cy="559.3" r="2.9" fill="none" stroke="#000" stroke-width="2.1"/>
<circle cx="505.5" cy="559.3" r="2.9" fill="none" stroke="#000" stroke-width="2.1"/>
<circle cx="507.5" cy="559.3" r="2.9" fill="none" stroke="#000" stroke-width="2.1"/>
<circle cx="509.5" cy="559.3" r="2.9" fill="none" stroke="#000" stroke-width="2.1"/>
<circle cx="511.5" cy="559.3" r="2.9" fill="none" stroke="#000" stroke-width="2.1"/>
<circle cx="513.5" cy="559.3" r="2.9" fill="none" stroke="#000" stroke-width="2.1"/>
<circle cx="518.9" cy="559.3" r="2.9" fill="none" stroke="#000" stroke-width="2.1"/>
<circle cx="526.3" cy="559.3" r="2.9" fill="none" stroke="#000" stroke-width="2.1"/>
<circle cx="531.2" cy="559.3" r="2.9" fill="none" stroke="#000" stroke-width="2.1"/>
<circle cx="533.8" cy="559.3" r="2.9" fill="none" stroke="#000" stroke-width="2.1"/>
<circle cx="536.4" cy="559.3" r="2.9" fill="none" stroke="#000" stroke-width="2.1"/>
<circle cx="549.6" cy="559.3" r="2.9" fill="none" stroke="#000" stroke-width="2.1"/>
<circle cx="552.6" cy="559.3" r="2.9" fill="none" stroke="#000" stroke-width="2.1"/>
<circle cx="568.5" cy="559.3" r="2.9" fill="none" stroke="#000" stroke-width="2.1"/>
<circle cx="572.4" cy="559.3" r="2.9" fill="none" stroke="#000" stroke-width="2.1"/>
<circle cx="577.2" cy="559.3" r="2.9" fill="none" stroke="#000" stroke-width="2.1"/>
<circle cx="579.0" cy="559.3" r="2.9" fill="none" stroke="#000" stroke-width="2.1"/>
<circle cx="593.5" cy="559.3" r="2.9" fill="none" stroke="#000" stroke-width="2.1"/>
<circle cx="615.6" cy="559.3" r="2.9" fill="none" stroke="#000" stroke-width="2.1"/>
<circle cx="626.0" cy="559.3" r="2.9" fill="none" stroke="#000" stroke-width="2.1"/>
<circle cx="653.4" cy="559.3" r="2.9" fill="none" stroke="#000" stroke-width="2.1"/>
<circle cx="667.1" cy="559.3" r="2.9" fill="none" stroke="#000" stroke-width="2.1"/>
<circle cx="689.7" cy="559.3" r="2.9" fill="none" stroke="#000" stroke-width="2.1"/>
<circle cx="748.9" cy="559.3" r="2.9" fill="none" stroke="#000" stroke-width="2.1"/>
<circle cx="870.9" cy="559.3" r="2.9" fill="none" stroke="#000" stroke-width="2.1"/>
<line x1="146.8" y1="522.6" x2="157.8" y2="522.6" stroke="#000" stroke-width="1.5"/>
<line x1="146.8" y1="558.8" x2="157.8" y2="558.8" stroke="#000" stroke-width="1.5"/>
<text x="20.2" y="529.9" font-size="20.2">With QRV</text>
<text x="20.2" y="567.2" font-size="20.2" textLength="112.3" lengthAdjust="spacing">Without QRV</text>
<line x1="216.7" y1="594.7" x2="216.7" y2="604.2" stroke="#000" stroke-width="1.4"/>
<text x="217.0" y="635.0" font-size="22.6" text-anchor="middle">0</text>
<line x1="455.0" y1="594.7" x2="455.0" y2="604.2" stroke="#000" stroke-width="1.4"/>
<text x="455.3" y="635.0" font-size="22.6" text-anchor="middle">10</text>
<line x1="693.3" y1="594.7" x2="693.3" y2="604.2" stroke="#000" stroke-width="1.4"/>
<text x="693.6" y="635.0" font-size="22.6" text-anchor="middle">20</text>
<line x1="931.6" y1="594.7" x2="931.6" y2="604.2" stroke="#000" stroke-width="1.4"/>
<text x="931.9" y="635.0" font-size="22.6" text-anchor="middle">30</text>
<text x="576.2" y="676.5" font-size="24.5" text-anchor="middle">Response Time (Minutes)</text>
<rect x="431.8" y="707.4" width="291.0" height="20.9" fill="#fff" stroke="#000" stroke-width="1.6"/>
<line x1="438.7" y1="718.2" x2="510.7" y2="718.2" stroke="#000" stroke-width="3.2"/>
<text x="519.7" y="724.1" font-size="16.5">Normal</text>
<line x1="586.1" y1="718.2" x2="655.7" y2="718.2" stroke="#000" stroke-width="3.2" stroke-dasharray="16.3 6.2"/>
<text x="666.0" y="724.1" font-size="16.5">Kernel</text>
</svg>
</body></html>
